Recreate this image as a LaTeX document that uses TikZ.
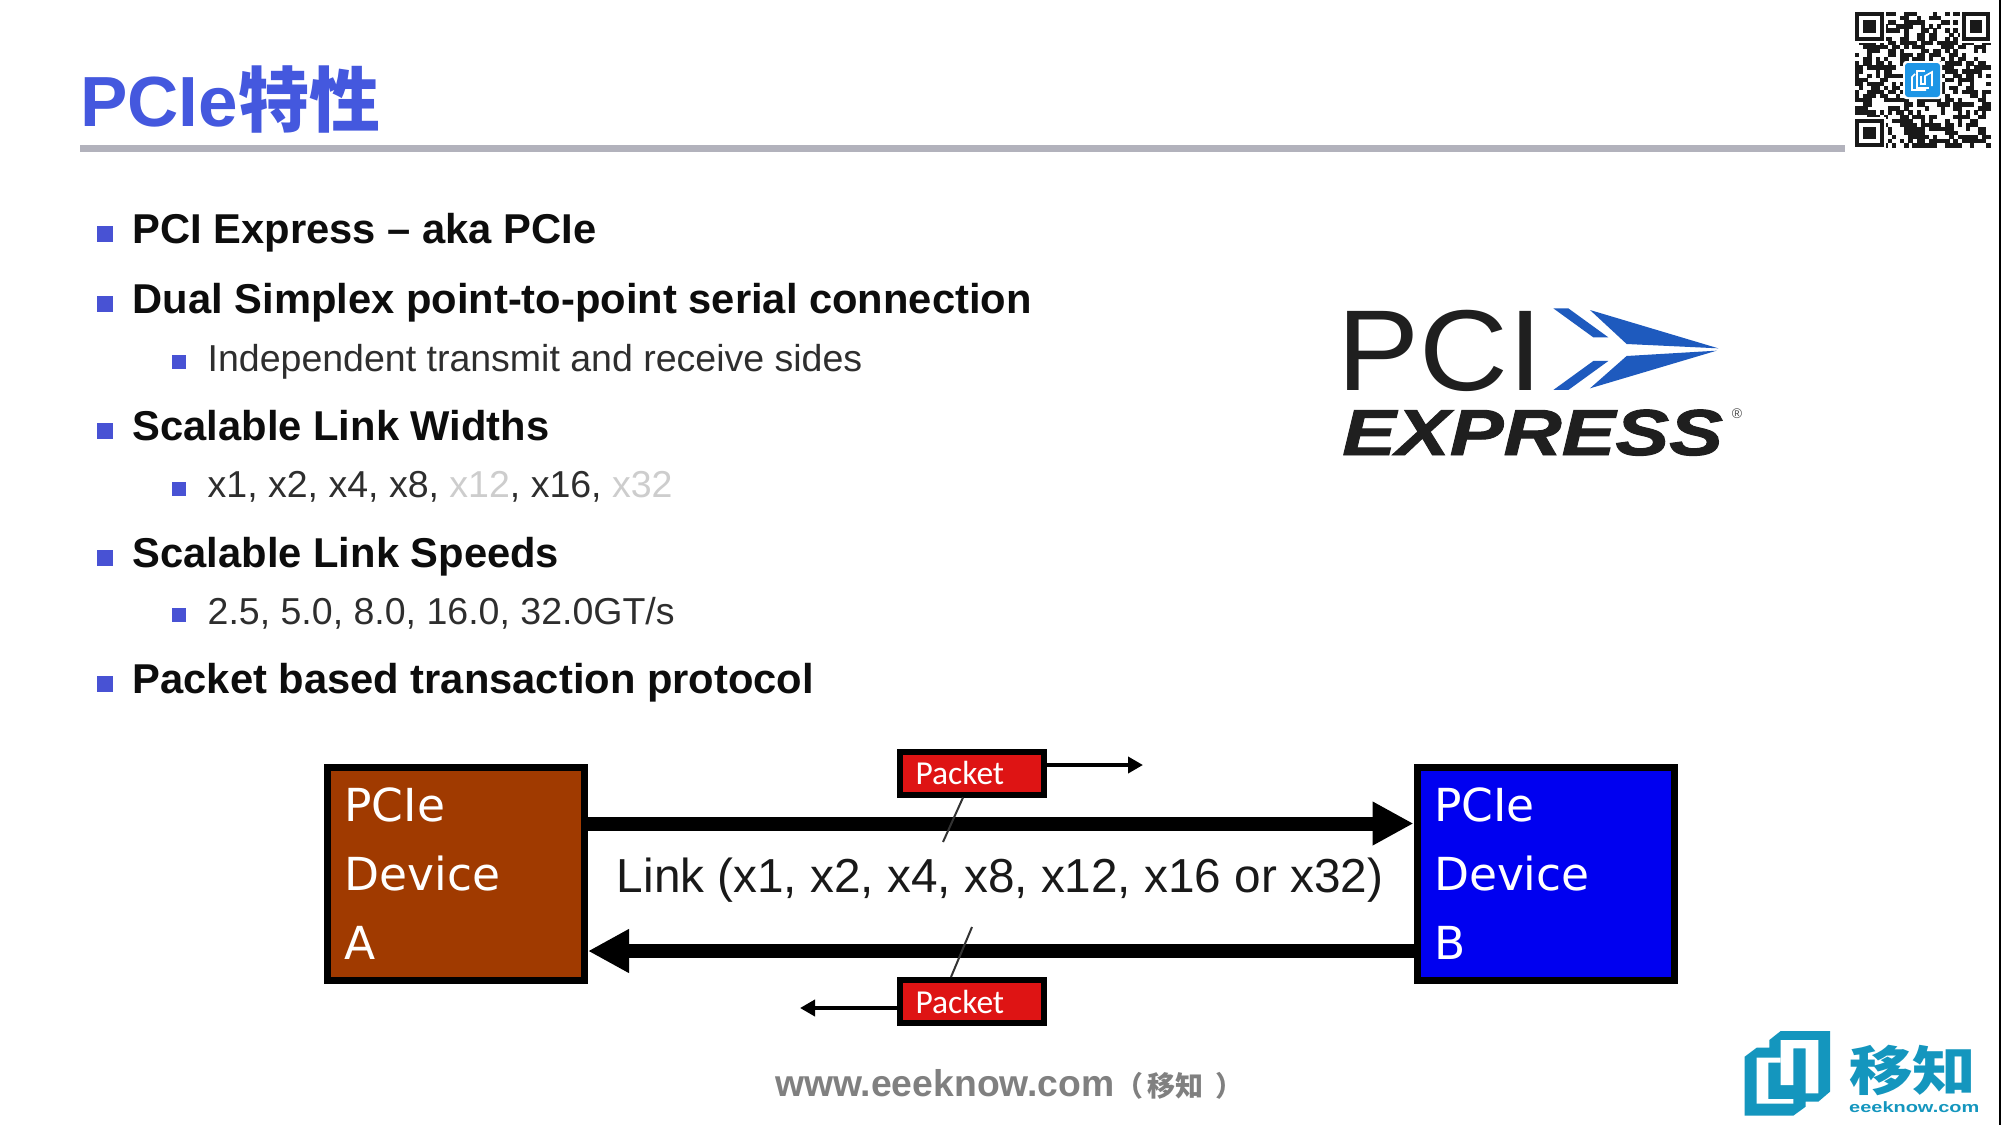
\documentclass[tikz,border=0pt]{standalone}
\usepackage{fontspec}
\setmainfont{Liberation Sans}
\newfontfamily\cjk{Noto Sans CJK SC}
\newfontfamily\brandcjk[FakeStretch=1.2]{Noto Sans CJK SC}
\newfontfamily\brandurlfont[FakeStretch=1.33]{Liberation Sans}
\newfontfamily\boxfont{DejaVu Sans}
\newfontfamily\pktfont{Carlito}
\newfontfamily\pcifont[FakeStretch=1.07]{Liberation Sans}
\newfontfamily\expfont[FakeStretch=1.24,FakeBold=1.5]{Liberation Sans}
\usepackage{xcolor}
\usetikzlibrary{positioning}
\usetikzlibrary{arrows.meta}
\definecolor{titleblue}{RGB}{68,88,222}
\definecolor{bulletblue}{RGB}{72,82,212}
\definecolor{rulegray}{RGB}{178,178,188}
\definecolor{fadetext}{RGB}{205,205,205}
\definecolor{devbrown}{RGB}{160,58,0}
\definecolor{devblue}{RGB}{0,0,240}
\definecolor{pktred}{RGB}{222,20,20}
\definecolor{wings}{RGB}{30,90,190}
\definecolor{brandteal}{RGB}{20,150,190}
\definecolor{qrblue}{RGB}{30,150,230}

\begin{document}
\begin{tikzpicture}[
  x=1pt, y=-1pt,
  mainitem/.style={inner sep=0pt, anchor=base west, text height=29pt, text depth=10pt, font=\fontsize{41.7}{48}\selectfont\bfseries, text=black!95},
  subitem/.style={inner sep=0pt, anchor=base west, text height=28pt, text depth=10pt, font=\fontsize{37.5}{44}\selectfont, text=black!82},
  mainsq/.style={fill=bulletblue, minimum size=16pt, inner sep=0pt},
  subsq/.style={fill=bulletblue, minimum size=14pt, inner sep=0pt},
  device/.style={draw=black, line width=7pt, minimum height=213pt, text width=223pt, inner xsep=17pt, inner ysep=0pt, align=left, text=white, font=\boxfont\fontsize{45.5}{69}\selectfont},
  packet/.style={draw=black, line width=6pt, fill=pktred, minimum height=43pt, text width=113pt, inner xsep=15.5pt, inner ysep=0pt, align=left, text=white, font=\pktfont\fontsize{33.5}{36}\selectfont},
  linkarrow/.style={-{Triangle[length=41pt,width=41pt]}, line width=14pt},
  pktarrow/.style={-{Triangle[length=15pt,width=16pt]}, line width=4pt},
  slash/.style={line width=2pt, black!80},
  qrmod/.style={fill=black!90}
]
\useasboundingbox (0,0) rectangle (2001,1125);
\fill[white] (0,0) rectangle (2001,1125);
\draw[black, line width=2pt] (2000,0) -- (2000,1125);

% title
\node[inner sep=0pt, anchor=base west, text=titleblue, font=\fontsize{71}{80}\selectfont\bfseries] (title) at (80,126) {PCIe{\cjk 特性}};
\fill[rulegray] (80,145) rectangle (1845,152);

% bullets
\node[mainitem] (L1) at (132.5,243.5) {PCI Express – aka PCIe};
\node[mainitem] (L2) at (132.5,313) {Dual Simplex point-to-point serial connection};
\node[subitem] (L3) at (207.5,371) {Independent transmit and receive sides};
\node[mainitem] (L4) at (132.5,440) {Scalable Link Widths};
\node[subitem] (L5) at (207.5,497.5) {x1, x2, x4, x8, \textcolor{fadetext}{x12}, x16, \textcolor{fadetext}{x32}};
\node[mainitem] (L6) at (132.5,567) {Scalable Link Speeds};
\node[subitem] (L7) at (207.5,624) {2.5, 5.0, 8.0, 16.0, 32.0GT/s};
\node[mainitem] (L8) at (132.5,693) {Packet based transaction protocol};

\node[mainsq, left=19.5pt of L1] (S1) {};
\node[mainsq, left=19.5pt of L2] (S2) {};
\node[subsq, left=21.5pt of L3] (S3) {};
\node[mainsq, left=19.5pt of L4] (S4) {};
\node[subsq, left=21.5pt of L5] (S5) {};
\node[mainsq, left=19.5pt of L6] (S6) {};
\node[subsq, left=21.5pt of L7] (S7) {};
\node[mainsq, left=19.5pt of L8] (S8) {};

% PCI Express logo
\node[inner sep=0pt, anchor=base west, text=black!88, font=\pcifont\fontsize{115}{120}\selectfont] (logoPCI) at (1337,390) {PCI};
\node[inner sep=0pt, anchor=base west, text=black!88, font=\expfont\fontsize{65}{70}\selectfont\bfseries\itshape] (logoEXP) at (1342,455) {EXPRESS};
\node[inner sep=0pt, text=black!70, font=\fontsize{14}{16}\selectfont] (logoR) at (1737,414) {®};
\begin{scope}[shift={(1300,280)}, x=0.3333pt, y=-0.3333pt]
\fill[wings] (760,85) -- (805,85) -- (925,172) -- (880,172) -- cycle;
\fill[wings] (870,90) -- (1255,205) -- (980,192) -- cycle;
\fill[wings] (870,325) -- (980,228) -- (1250,212) -- cycle;
\fill[wings] (760,330) -- (880,243) -- (925,243) -- (805,330) -- cycle;
\end{scope}

% QR code
\pgfmathsetseed{7}
\foreach \i in {0,...,32} {
  \foreach \j in {0,...,32} {
    \pgfmathsetmacro{\qrval}{rnd}
    \ifdim\qrval pt<0.52pt
      \fill[qrmod] (1855+\i*4.1,12+\j*4.1) rectangle +(4.3,4.3);
    \fi
  }
}
\foreach \fx/\fy in {1855/12, 1961.6/12, 1855/118.6} {
  \fill[white] (\fx-2,\fy-2) rectangle +(32.7,32.7);
  \draw[black!90, line width=4.1pt] (\fx+2.05,\fy+2.05) rectangle +(24.6,24.6);
  \fill[black!90] (\fx+8.2,\fy+8.2) rectangle +(12.3,12.3);
}
\fill[white, rounded corners=3pt] (1903,61) rectangle (1942,99);
\fill[qrblue, rounded corners=3pt] (1905,63) rectangle (1940,97);
\draw[white, line width=1.6pt] (1925,71) -- (1917,71) -- (1917,88) -- (1929,88);
\draw[white, line width=1.6pt] (1915,74) -- (1912,77) -- (1912,90) -- (1926,90);
\draw[white, line width=1.6pt] (1921,76) -- (1921,84) -- (1925,84) -- (1925,76) -- (1932,72) -- (1932,86);

% link diagram
\node[device, fill=devbrown] (devA) at (456,874) {PCIe\\Device\\A};
\node[device, fill=devblue] (devB) at (1545.5,874) {PCIe\\Device\\B};
\node[inner sep=0pt, font=\fontsize{47.7}{54}\selectfont, text=black!90, text height=34pt, text depth=10pt] (linkLabel) at (1000,880) {Link (x1, x2, x4, x8, x12, x16 or x32)};
\draw[linkarrow] ([yshift=50.5pt]devA.east) -- ([yshift=50.5pt]devB.west);
\draw[linkarrow] ([yshift=-77pt]devB.west) -- ([yshift=-77pt]devA.east);

\node[packet] (pktTop) at (972,773) {Packet};
\node[packet] (pktBot) at (972,1001.5) {Packet};
\coordinate (pktTopEnd) at (1143,765);
\coordinate (pktBotEnd) at (800,1008);
\coordinate (slashTop) at (943,842);
\coordinate (slashBot) at (972,927);
\draw[pktarrow] (pktTop.east |- pktTopEnd) -- (pktTopEnd);
\draw[pktarrow] (pktBot.west |- pktBotEnd) -- (pktBotEnd);
\draw[slash] ([xshift=-9pt]pktTop.south) -- (slashTop);
\draw[slash] (slashBot) -- ([xshift=-21pt]pktBot.north);

% footer
\node[inner sep=0pt, anchor=base west, text=black!50, font=\fontsize{37.3}{42}\selectfont\bfseries] (footer) at (775,1096) {www.eeeknow.com\kern1pt{\cjk\fontsize{28}{32}\selectfont （\kern4pt移知\kern12pt）}};

% brand logo
\begin{scope}[shift={(1740,1025)}, x=0.3333pt, y=-0.3333pt]
\fill[brandteal] (14,95) -- (50,68) -- (88,68) -- (88,45) -- (122,18) -- (270,18) -- (270,200) -- (235,230) -- (197,230) -- (197,245) -- (160,272) -- (14,272) -- cycle;
\fill[white] (50,98) -- (122,98) -- (122,113) -- (85,113) -- (85,222) -- (160,222) -- (160,236) -- (50,236) -- cycle;
\fill[white] (122,45) -- (235,45) -- (235,205) -- (197,205) -- (197,70) -- (160,70) -- (160,180) -- (122,180) -- cycle;
\end{scope}
\node[inner sep=0pt, anchor=base west, text=brandteal, font=\brandcjk\fontsize{53}{56}\selectfont\bfseries] (brandCJK) at (1849,1090) {移知};
\node[inner sep=0pt, anchor=base west, text=brandteal, font=\brandurlfont\fontsize{15}{17}\selectfont\bfseries] (brandURL) at (1849,1112) {eeeknow.com};

\end{tikzpicture}
\end{document}
